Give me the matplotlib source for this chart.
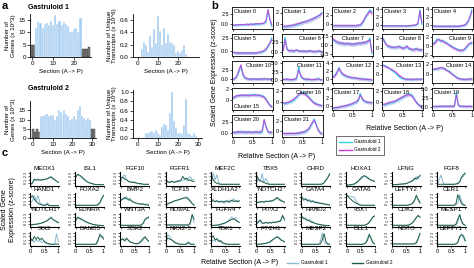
import numpy as np
import matplotlib
matplotlib.use("Agg")
import matplotlib.pyplot as plt
from matplotlib.lines import Line2D

plt.rcParams['font.family'] = ['Liberation Sans', 'DejaVu Sans']

# ---------------- panel a data ----------------
g1_genes = [4.8, 4.8, 12.0, 14.2, 13.8, 12.0, 13.5, 14.0, 13.2, 14.5, 13.0, 17.2, 13.5, 14.5,
            13.0, 14.2, 13.5, 12.5, 10.0, 10.2, 11.5, 12.0, 10.2, 16.0, 3.3, 3.2, 3.1, 4.0]
g1_excluded = [0, 1, 24, 25, 26, 27]
g1_tx_first = 2
g1_tx = [0.13, 0.25, 0.20, 0.08, 0.35, 0.17, 0.45, 0.22, 0.67, 0.43, 0.20, 0.48, 0.22,
         0.38, 0.25, 0.22, 0.20, 0.06, 0.10, 0.07, 0.12, 0.20, 0.05]

g2_genes = [4.7, 3.0, 4.7, 3.3, 11.8, 12.0, 12.5, 13.0, 12.0, 12.5, 12.5, 10.0, 12.0, 15.0,
            14.0, 12.5, 15.0, 13.0, 12.0, 10.0, 10.5, 12.0, 10.5, 15.0, 17.5, 12.0, 11.0,
            10.0, 11.0, 9.5, 4.8, 4.8]
g2_excluded = [0, 1, 2, 3, 30, 31]
g2_tx_first = 4
g2_tx = [0.12, 0.10, 0.13, 0.15, 0.12, 0.18, 0.10, 0.07, 0.25, 0.30, 0.28, 0.17, 0.55,
         1.00, 0.38, 0.22, 0.10, 0.12, 0.09, 0.28, 0.85, 0.12, 0.08, 0.05, 0.10, 0.05]

# ---------------- panel b data ----------------
cluster_g1 = [
    [-0.3,-0.3,-0.2,-0.2,-0.2,-0.1,-0.2,-0.1,-0.1,0,-0.1,0,0,0,0.1,0.1,0.2,0.6,3.4,1.0,-0.6],
    [-0.6,-0.6,-0.5,-0.5,-0.4,-0.3,-0.3,-0.2,-0.1,0,0.2,0.3,0.4,0.5,0.6,0.8,0.9,1.2,1.3,1.6,2.0],
    [-0.3,-0.3,-0.3,-0.3,-0.3,-0.3,-0.3,-0.3,-0.3,-0.3,-0.3,-0.3,-0.3,-0.2,-0.2,0.2,0.8,1.6,2.4,3.0,2.6],
    [-0.2,-0.2,-0.2,-0.2,-0.2,-0.2,-0.2,-0.2,-0.2,-0.2,-0.2,-0.2,-0.2,-0.2,-0.2,-0.1,-0.1,0,0.3,3.9,0.2],
    [-0.3,-0.3,-0.3,-0.3,-0.3,-0.3,-0.3,-0.3,-0.3,-0.3,-0.3,-0.3,-0.3,-0.3,-0.2,-0.2,-0.1,0.2,0.8,2.0,4.0],
    [-0.3,-0.4,-0.4,-0.4,-0.4,-0.4,-0.4,-0.4,-0.4,-0.4,-0.4,-0.4,-0.4,-0.3,-0.3,-0.2,0,0.3,0.8,1.5,2.6],
    [0.5,3.8,0.6,0.3,0.5,0.2,0.3,0.6,0.2,0.3,0.2,0.3,0.1,0.2,0.4,0.1,0.2,0.1,0.2,0.3,0.1],
    [1.5,1.0,0.8,0.5,0.6,0.3,0.4,0.2,0.5,0.3,0.1,0.4,0.3,0.5,0.4,0.6,0.8,0.7,1.0,2.0,-2.5],
    [2.0,1.2,0.5,0.3,0.2,0.3,0.1,0.2,0.4,0.3,0.1,0.0,0.5,0.0,-0.2,-0.3,-0.2,0.0,-0.3,-0.2,-0.4],
    [0.5,0.8,1.5,1.3,1.0,1.2,0.8,0.6,0.3,0.0,-0.3,-0.5,-0.7,-0.9,-1.0,-1.1,-0.9,-0.5,0.0,0.5,0.4],
    [0,0.2,0.8,2.0,3.5,1.0,0.3,0.1,0,0,0.1,0,0,0.1,0,0.1,0.2,0.1,0,0.1,0],
    [0.3,0.2,0.4,0.2,0.1,0.3,0.2,0.5,4.0,1.2,0.5,0.3,0.2,0.4,0.2,0.1,0.3,0.2,0.6,0.2,0.1],
    [0.5,1.0,1.8,2.8,1.5,1.0,0.8,0.6,0.5,0.4,0.3,0.2,0.2,0.1,0.1,0,-0.1,0,-0.2,-0.1,-0.3],
    [2.0,1.8,1.6,1.3,1.0,0.7,0.4,0.0,-0.4,-0.7,-0.9,-1.0,-1.0,-1.0,-1.1,-1.1,-1.1,-1.0,-1.0,-1.0,-1.0],
    [0.9,1.0,1.0,1.1,1.3,1.2,1.0,0.8,0.6,0.3,0.0,-0.3,-0.6,-0.8,-1.0,-1.0,-1.0,-1.1,-1.0,-1.0,-1.0],
    [0.3,0.6,0.8,0.9,0.9,0.9,0.8,0.9,0.9,0.9,1.0,1.0,0.9,0.9,0.9,0.8,0.6,0.2,-0.4,-0.9,-1.2],
    [-0.3,-0.3,-0.2,-0.1,0,0.2,0.5,0.9,1.3,1.6,1.8,1.7,1.4,1.0,0.6,0.2,-0.1,-0.3,-0.5,-0.6,-0.7],
    [-0.6,-0.5,-0.4,-0.3,-0.2,-0.1,0,0.1,0.2,0.3,0.5,0.7,0.9,1.3,3.0,1.5,1.1,0.9,0.8,0.8,0.7],
    [-0.6,-0.6,-0.4,-0.4,-0.2,-0.2,0,0.2,0.4,0.6,0.8,1.0,1.3,1.5,1.4,1.2,0.6,0.0,-0.5,-0.8,-1.0],
    [0.1,0.2,0.1,0.3,0.2,0.2,0.3,0.2,0.3,0.2,0.3,0.3,4.2,0.5,0.2,0.3,0.2,0.2,0.3,0.2,0.1],
    [0,0.1,0,0.1,0.3,0.1,0,0.1,0.2,0.1,0,0.1,0.2,0.1,0,0.1,2.8,1.5,0.1,0,0.1],
    [-0.5,-0.5,-0.5,-0.5,-0.5,-0.5,-0.5,-0.5,-0.4,-0.4,-0.3,-0.2,0.0,0.3,0.8,1.5,2.4,1.5,0.3,-0.3,-0.5],
]
cluster_g2 = [
    [-0.2,-0.2,-0.2,-0.1,-0.1,-0.1,-0.1,0,-0.1,0,0,0,0.1,0.1,0.1,0.2,0.3,0.8,3.6,1.2,-0.2],
    [-0.5,-0.5,-0.5,-0.4,-0.4,-0.3,-0.2,-0.1,0,0.1,0.2,0.3,0.4,0.5,0.7,0.8,1.0,1.1,1.4,1.5,1.9],
    [-0.3,-0.3,-0.3,-0.3,-0.3,-0.3,-0.3,-0.3,-0.3,-0.3,-0.3,-0.3,-0.3,-0.2,-0.1,0.3,1.0,1.8,2.2,2.8,2.2],
    [-0.2,-0.2,-0.2,-0.2,-0.2,-0.2,-0.2,-0.2,-0.2,-0.2,-0.2,-0.2,-0.2,-0.2,-0.1,-0.1,0,0.1,0.5,3.6,0.6],
    [-0.3,-0.3,-0.3,-0.3,-0.3,-0.3,-0.3,-0.3,-0.3,-0.3,-0.3,-0.3,-0.3,-0.3,-0.2,-0.1,0,0.3,1.0,2.2,3.5],
    [-0.3,-0.3,-0.4,-0.4,-0.4,-0.4,-0.4,-0.4,-0.4,-0.4,-0.4,-0.4,-0.4,-0.3,-0.2,-0.1,0.1,0.4,1.0,1.6,2.2],
    [0.4,3.2,0.8,0.3,0.4,0.3,0.4,0.5,0.3,0.2,0.3,0.2,0.2,0.3,0.3,0.2,0.1,0.2,0.3,0.2,0.1],
    [1.8,1.2,0.9,0.7,0.5,0.6,0.3,0.5,0.4,0.2,0.3,0.2,0.4,0.6,0.5,0.7,0.6,0.9,1.2,1.5,-2.0],
    [1.8,1.0,0.6,0.4,0.3,0.2,0.2,0.3,0.3,0.2,0.0,0.1,0.4,0.1,-0.1,-0.2,-0.3,-0.1,-0.2,-0.3,-0.3],
    [0.3,0.6,1.2,1.4,1.1,1.0,0.7,0.5,0.2,-0.1,-0.4,-0.6,-0.8,-1.0,-1.1,-1.0,-0.8,-0.3,0.2,0.6,0.7],
    [0,0.3,1.0,2.5,3.8,1.5,0.5,0.2,0.1,0,0,0.1,0,0,0.1,0,0.1,0.1,0,0,0],
    [0.2,0.3,0.3,0.2,0.2,0.2,0.3,0.8,3.0,1.5,0.6,0.4,0.3,0.3,0.2,0.2,0.2,0.3,0.4,0.2,0.1],
    [0.4,0.8,1.5,2.6,1.8,1.2,0.9,0.7,0.5,0.4,0.3,0.3,0.2,0.1,0,0,-0.1,-0.1,-0.1,-0.2,-0.2],
    [1.8,1.7,1.5,1.3,1.1,0.9,0.6,0.3,-0.1,-0.4,-0.7,-0.9,-1.0,-1.0,-1.0,-1.0,-1.0,-1.0,-1.0,-1.0,-1.0],
    [1.0,1.0,1.1,1.2,1.3,1.2,1.0,0.7,0.5,0.2,-0.1,-0.4,-0.7,-0.9,-1.0,-1.0,-1.1,-1.1,-1.0,-1.0,-1.0],
    [0.4,0.7,0.8,0.8,0.9,0.9,0.9,0.9,0.8,0.9,0.9,0.9,0.9,0.9,0.8,0.7,0.5,0.1,-0.5,-1.0,-1.2],
    [-0.2,-0.2,-0.1,0,0.2,0.4,0.7,1.0,1.4,1.7,1.6,1.5,1.2,0.9,0.5,0.1,-0.2,-0.4,-0.5,-0.6,-0.7],
    [-0.5,-0.4,-0.4,-0.3,-0.2,-0.1,0,0.1,0.3,0.4,0.6,0.8,1.0,1.6,2.6,1.8,1.2,1.0,0.9,0.8,0.8],
    [-0.5,-0.5,-0.3,-0.2,-0.1,0,0.1,0.3,0.5,0.7,0.9,1.1,1.2,1.3,1.3,1.0,0.5,-0.1,-0.5,-0.8,-1.0],
    [0.2,0.3,0.2,0.2,0.3,0.3,0.2,0.3,0.2,0.3,0.2,0.4,3.5,0.6,0.3,0.2,0.3,0.2,0.2,0.3,0.2],
    [0.1,0,0.2,0.2,0.1,0.1,0.2,0.1,0.1,0.1,0.1,0.2,0.1,0.1,0.2,0.4,3.0,1.2,0.2,0.1,0],
    [-0.5,-0.5,-0.5,-0.5,-0.5,-0.5,-0.5,-0.4,-0.4,-0.3,-0.2,-0.1,0.1,0.4,1.0,1.7,2.2,1.3,0.2,-0.3,-0.6],
]
cluster_sd = [0.3, 0.35, 0.35, 0.3, 0.35, 0.3, 0.4, 0.6, 0.35, 0.35, 0.4, 0.45, 0.4, 0.3,
              0.3, 0.3, 0.3, 0.4, 0.35, 0.4, 0.4, 0.35]
cluster_ylim = [(-1.2, 4.2), (-1, 3), (-1, 3.6), (-1, 4.6), (-1, 4.6), (-1, 3.3), (-1, 4.6),
                (-3.2, 3.2), (-1.5, 2.8), (-2.3, 2.6), (-1, 4.8), (-0.8, 5.6), (-1, 4.4),
                (-1.8, 2.8), (-1.8, 2.6), (-1.8, 2.2), (-1.5, 2.6), (-1, 4.3), (-1.6, 2.6),
                (-0.8, 5.4), (-1, 4.0), (-1.2, 3.2)]
cluster_yticks = [[0, 2.5], [0, 2], [0, 2], [0, 2, 4], [0, 2, 4], [0, 2.5], [0, 2.5],
                  [-2.5, 0, 2.5], [0, 2], [-2, 0, 2], [0, 2.5], [0, 2.5, 5], [0, 2, 4],
                  [0, 2], [0, 2], [0, 2], [0, 2], [0, 2, 4], [0, 2], [0, 2.5, 5], [0, 2.5], [0, 2]]
cluster_label_pos = ['l', 'l', 'l', 'l', 'l', 'l', 'r', 'c', 'r', 'r', 'r', 'r', 'r', 'r',
                     'r', 'bl', 'r', 'l', 'l', 'l', 'l', 'l']

# ---------------- panel c data ----------------
genes = ['MEOX1', 'ISL1', 'FGF10', 'FGFR1', 'MEF2C', 'TBX5', 'CHRD', 'HOXA1', 'LFNG', 'FGF8',
         'HAND1', 'FOXA2', 'BMP2', 'TCF15', 'ALDH1A2', 'NOTCH2', 'GATA4', 'GATA6', 'LEFTY2', 'CER1',
         'NOTCH1', 'EDNRA', 'WNT3A', 'NODAL', 'FGFR4', 'PITX2', 'HAND2', 'TBXT', 'CDX2', 'MESP1',
         'SIX2', 'DAND5', 'SOX2', 'NKX2-5', 'TBX1', 'PTCH1', 'MESP2', 'DLL1', 'NOTO', 'LEFTY1']
gene_g1 = [
    [-0.5,0.0,1.0,0.8,1.3,1.0,0.8,1.2,1.0,1.3,1.5,2.0,1.2,1.0,0.5,0.2],
    [2.0,2.5,2.2,1.8,1.2,0.8,0.4,0.2,0.0,-0.2,-0.3,-0.3,-0.4,-0.4,-0.4,-0.4],
    [0.5,2.0,2.5,1.2,0.5,0.3,0.2,0.5,0.2,0.0,-0.2,0.0,-0.3,-0.3,-0.3,-0.3],
    [0.8,0.3,0.5,0.6,0.2,0.5,0.8,0.4,0.6,0.9,1.2,0.8,1.5,2.0,1.0,1.2],
    [0.0,3.0,1.0,2.5,0.2,-0.2,-0.3,-0.3,-0.3,-0.3,-0.3,-0.3,-0.3,-0.3,-0.3,-0.3],
    [0.0,1.5,0.5,2.8,0.2,1.5,0.2,-0.3,-0.3,-0.3,-0.3,-0.3,-0.3,-0.3,-0.3,-0.3],
    [-0.3,-0.3,-0.3,-0.3,-0.3,-0.3,-0.3,-0.3,-0.3,-0.3,-0.3,-0.3,0.0,0.8,1.8,2.6],
    [-0.5,-0.5,-0.5,-0.4,-0.3,0.0,0.5,1.0,1.5,2.0,2.2,1.8,1.4,1.0,0.8,0.6],
    [-0.4,-0.4,-0.4,-0.4,-0.3,-0.3,-0.3,-0.2,-0.1,0.2,0.4,0.6,1.0,2.0,1.2,2.5],
    [-0.3,1.0,2.5,0.2,-0.3,-0.3,-0.3,-0.3,-0.3,-0.3,-0.3,-0.2,0.2,1.5,2.0,2.8],
    [0.5,1.0,2.5,1.0,2.6,0.5,0.0,-0.2,-0.3,0.5,-0.3,-0.4,-0.4,-0.4,-0.4,-0.4],
    [-0.3,-0.3,-0.3,-0.3,-0.3,-0.3,-0.3,-0.3,-0.3,-0.3,-0.3,-0.3,-0.2,0.3,1.5,2.8],
    [1.0,1.8,1.5,2.2,1.0,1.8,0.8,0.5,0.3,0.2,0.1,0.3,0.0,-0.2,0.2,-0.3],
    [-0.3,0.0,0.3,0.5,0.8,1.0,1.2,1.3,1.5,1.8,2.0,2.2,1.8,1.0,0.3,-0.2],
    [0.8,1.5,0.6,1.2,0.5,0.8,1.0,0.3,0.8,1.2,0.5,1.0,1.6,0.8,1.2,0.9],
    [0.3,0.8,0.5,0.9,0.6,1.0,0.7,1.1,0.8,1.0,1.3,1.8,1.2,1.4,0.8,0.5],
    [2.2,1.0,1.8,0.8,1.5,0.5,1.2,0.4,0.8,0.2,0.5,0.0,0.3,-0.2,0.0,-0.3],
    [2.5,2.4,2.3,2.2,2.0,0.8,0.2,-0.2,-0.3,-0.3,-0.3,-0.3,-0.3,-0.3,-0.3,-0.3],
    [-0.3,-0.3,-0.3,-0.3,-0.3,-0.3,-0.3,-0.3,-0.3,-0.2,-0.1,0.2,0.8,2.8,1.0,0.2],
    [-0.3,-0.3,-0.3,-0.3,-0.3,-0.3,-0.3,-0.3,-0.3,-0.3,-0.2,0.5,2.8,1.0,-0.2,-0.3],
    [-0.3,-0.2,-0.1,0.0,0.1,0.2,0.3,0.5,0.8,1.0,1.5,2.2,1.5,1.0,0.6,0.4],
    [1.0,2.2,1.5,1.8,1.0,0.8,0.5,0.3,0.1,0.0,-0.2,-0.3,-0.3,-0.3,-0.4,-0.4],
    [-0.3,-0.3,-0.3,-0.3,-0.3,-0.3,-0.3,-0.3,-0.3,-0.3,-0.3,-0.2,0.2,1.2,2.0,1.6],
    [-0.2,-0.2,-0.2,-0.2,-0.2,-0.2,-0.2,-0.2,-0.2,-0.2,-0.2,-0.2,-0.2,-0.1,3.0,0.5],
    [-0.4,-0.4,-0.3,-0.3,-0.2,-0.1,0.0,0.2,0.5,1.0,1.5,2.2,1.5,2.0,1.0,0.5],
    [0.0,0.5,1.0,0.2,0.3,0.5,0.2,0.6,0.3,0.8,0.4,0.6,1.0,0.8,2.8,1.0],
    [2.5,1.5,2.0,1.0,1.5,0.5,0.8,0.3,0.2,0.0,-0.2,-0.3,-0.3,-0.4,-0.4,-0.4],
    [-0.3,-0.3,-0.3,-0.3,-0.3,-0.3,-0.3,-0.3,-0.3,-0.3,-0.2,0.0,0.5,1.2,2.0,2.6],
    [-0.3,-0.3,-0.3,-0.3,-0.3,-0.3,-0.3,-0.3,-0.3,-0.2,0.0,0.4,1.0,1.8,2.5,2.2],
    [-0.3,-0.3,-0.3,-0.3,-0.3,-0.3,-0.3,-0.3,-0.3,-0.3,-0.2,0.5,3.0,0.5,-0.2,-0.3],
    [0.5,1.0,0.3,1.2,0.5,0.8,0.2,0.5,0.0,-0.2,-0.2,-0.3,-0.3,-0.2,2.8,0.5],
    [-0.3,-0.3,-0.3,-0.3,-0.3,-0.3,-0.3,-0.3,-0.3,-0.3,-0.3,-0.3,0.5,2.8,1.5,2.0],
    [0.8,1.5,0.5,1.2,1.0,0.3,0.2,0.0,-0.2,-0.2,0.0,0.5,1.0,2.0,1.2,0.5],
    [0.5,2.5,2.0,1.0,0.3,0.0,-0.2,-0.3,-0.3,-0.3,-0.3,-0.3,0.5,-0.3,-0.3,-0.3],
    [0.5,1.0,0.5,1.5,0.8,0.3,0.0,-0.2,-0.3,-0.3,-0.3,-0.3,-0.3,-0.3,-0.3,-0.3],
    [-0.3,-0.3,-0.3,-0.2,-0.2,-0.1,0.0,0.2,0.5,1.0,1.5,2.0,1.8,1.2,0.8,0.5],
    [-0.3,-0.3,-0.3,-0.3,-0.3,-0.3,-0.3,-0.3,-0.3,-0.2,0.5,3.0,0.5,-0.2,-0.3,-0.3],
    [-0.3,-0.3,-0.3,-0.3,-0.3,-0.3,-0.3,-0.3,-0.3,-0.2,0.2,1.5,2.8,1.0,0.0,-0.2],
    [-0.2,-0.2,-0.2,-0.2,-0.2,-0.2,-0.2,-0.2,-0.2,-0.2,-0.2,-0.2,-0.2,-0.1,1.0,3.0],
    [-0.3,-0.3,-0.3,-0.3,-0.3,-0.3,-0.3,-0.3,-0.3,-0.3,-0.2,0.2,1.5,2.8,1.5,0.5],
]
gene_g2 = [
    [-0.4,0.2,1.2,1.0,1.0,0.9,1.1,1.0,1.2,1.4,1.6,1.8,1.5,1.0,0.6,0.3],
    [1.8,2.6,2.4,2.0,1.5,1.0,0.5,0.2,0.0,-0.1,-0.3,-0.4,-0.4,-0.4,-0.4,-0.4],
    [1.5,1.8,1.2,1.0,0.6,0.4,0.3,0.2,0.1,0.0,-0.1,-0.2,-0.3,-0.3,-0.3,-0.3],
    [1.0,0.4,0.2,0.6,0.3,0.4,0.5,0.7,1.0,2.0,1.2,1.5,0.8,1.0,0.6,0.5],
    [2.5,1.0,0.3,0.0,-0.2,-0.3,-0.3,-0.3,-0.3,-0.3,-0.3,-0.3,-0.3,-0.3,-0.3,-0.3],
    [2.5,1.0,0.8,0.5,0.2,0.0,-0.2,-0.3,-0.3,-0.3,-0.3,-0.3,-0.3,-0.3,-0.3,-0.3],
    [-0.3,-0.3,-0.3,-0.3,-0.3,-0.3,-0.3,-0.3,-0.3,-0.3,-0.3,-0.2,0.2,1.0,1.6,2.8],
    [-0.5,-0.5,-0.4,-0.3,-0.2,0.2,0.6,1.2,1.8,2.2,2.0,1.6,1.2,0.9,0.7,0.5],
    [-0.4,-0.4,-0.4,-0.3,-0.3,-0.2,-0.2,-0.1,0.0,0.3,0.5,0.8,1.5,1.2,1.8,2.2],
    [-0.3,-0.3,-0.3,-0.3,-0.3,-0.3,-0.3,-0.3,-0.3,-0.3,-0.2,0.0,0.5,1.8,2.5,3.0],
    [2.0,2.5,1.5,0.8,0.3,0.0,-0.2,-0.3,-0.3,0.0,-0.4,-0.4,-0.4,-0.4,-0.4,-0.4],
    [-0.3,-0.3,-0.3,-0.3,-0.3,-0.3,-0.3,-0.3,-0.3,-0.3,-0.3,-0.3,-0.1,0.5,1.8,2.5],
    [1.2,1.5,2.0,1.6,1.5,1.2,0.9,0.6,0.4,0.2,0.1,0.0,0.1,-0.1,-0.2,-0.3],
    [-0.2,0.2,0.5,0.6,0.9,1.1,1.2,1.4,1.6,1.7,1.9,1.8,1.5,0.8,0.2,-0.3],
    [1.0,1.0,0.8,1.0,0.7,0.9,0.6,0.8,1.0,0.6,0.9,1.2,0.8,1.0,0.7,1.0],
    [0.5,0.6,0.7,0.8,0.6,0.9,0.8,0.9,1.0,1.2,1.5,2.0,1.6,1.0,0.9,0.6],
    [2.0,1.5,1.5,1.2,1.0,0.9,0.8,0.6,0.5,0.4,0.3,0.2,0.1,0.0,-0.1,-0.2],
    [2.6,2.0,1.5,1.0,0.6,0.3,0.0,-0.2,-0.3,-0.3,-0.3,-0.3,-0.3,-0.3,-0.3,-0.3],
    [-0.3,-0.3,-0.3,-0.3,-0.3,-0.3,-0.3,-0.3,-0.3,-0.2,0.0,0.3,1.2,2.5,1.5,0.5],
    [-0.3,-0.3,-0.3,-0.3,-0.3,-0.3,-0.3,-0.3,-0.3,-0.3,0.2,2.8,1.5,0.2,-0.2,-0.3],
    [-0.2,-0.1,0.0,0.0,0.1,0.2,0.4,0.6,0.8,1.1,1.6,1.9,1.4,1.1,0.8,0.5],
    [1.2,2.0,1.8,1.4,1.2,0.9,0.6,0.4,0.2,0.0,-0.1,-0.2,-0.3,-0.3,-0.4,-0.4],
    [-0.3,-0.3,-0.3,-0.3,-0.3,-0.3,-0.3,-0.3,-0.3,-0.3,-0.3,-0.2,0.4,1.5,1.8,2.2],
    [-0.2,-0.2,-0.2,-0.2,-0.2,-0.2,-0.2,-0.2,-0.2,-0.2,-0.2,-0.2,-0.2,0.5,2.8,1.5],
    [-0.4,-0.3,-0.3,-0.2,-0.2,0.0,0.2,0.3,0.6,0.8,1.2,1.4,1.6,1.2,0.8,0.6],
    [0.2,0.8,1.2,0.4,0.3,0.6,0.3,0.5,0.4,0.6,0.5,0.8,0.7,1.2,2.5,1.5],
    [2.2,1.8,1.5,1.2,1.0,0.8,0.5,0.3,0.1,0.0,-0.1,-0.2,-0.3,-0.3,-0.4,-0.4],
    [-0.3,-0.3,-0.3,-0.3,-0.3,-0.3,-0.3,-0.3,-0.3,-0.3,-0.2,0.1,0.6,1.4,2.2,2.4],
    [-0.3,-0.3,-0.3,-0.3,-0.3,-0.3,-0.3,-0.3,-0.3,-0.2,0.1,0.5,1.2,2.0,2.6,2.0],
    [-0.3,-0.3,-0.3,-0.3,-0.3,-0.3,-0.3,-0.3,-0.3,-0.3,0.0,1.5,2.8,1.0,0.0,-0.3],
    [1.5,0.8,2.0,1.2,1.8,1.0,1.5,0.8,0.3,0.0,-0.2,-0.3,-0.3,-0.3,-0.2,-0.3],
    [-0.3,-0.3,-0.3,-0.3,-0.3,-0.3,-0.3,-0.3,-0.3,-0.3,-0.3,-0.2,1.0,2.5,2.0,1.2],
    [1.0,1.2,0.8,1.5,0.8,0.4,0.2,0.0,-0.1,-0.1,0.2,0.8,1.5,1.8,1.0,0.6],
    [1.0,1.5,1.2,1.0,0.6,0.2,0.0,-0.2,-0.3,-0.3,-0.3,-0.2,0.2,-0.2,-0.3,-0.3],
    [1.5,2.2,1.0,1.2,0.5,0.8,0.2,0.0,-0.2,-0.3,-0.3,-0.3,-0.3,-0.3,-0.3,-0.3],
    [-0.3,-0.3,-0.2,-0.2,-0.1,0.0,0.2,0.4,0.8,1.2,1.6,1.8,1.5,1.0,0.7,0.4],
    [-0.3,-0.3,-0.3,-0.3,-0.3,-0.3,-0.3,-0.3,-0.3,-0.3,-0.2,1.0,2.8,0.5,-0.2,-0.3],
    [-0.3,-0.3,-0.3,-0.3,-0.3,-0.3,-0.3,-0.3,-0.3,-0.2,0.0,0.8,2.5,1.5,0.2,-0.2],
    [-0.2,-0.2,-0.2,-0.2,-0.2,-0.2,-0.2,-0.2,-0.2,-0.2,-0.2,-0.2,-0.1,0.2,1.5,2.8],
    [-0.3,-0.3,-0.3,-0.3,-0.3,-0.3,-0.3,-0.3,-0.3,-0.3,-0.2,0.3,2.0,2.5,2.2,0.8],
]

BLUE_BAR = '#a3ccf2'
GREY_BAR = '#7d7d7d'
CYAN = '#2fd3ea'
MAGENTA = '#c53ed6'
C_G1 = '#8db9d2'
C_G2 = '#1e5c44'

W, H = 474, 268
fig = plt.figure(figsize=(W / 100, H / 100), dpi=100)


def add_ax(x, y, w, h):
    # pixel box from the top-left corner
    return fig.add_axes([x / W, 1 - (y + h) / H, w / W, h / H])


def style_open(ax, fs=4.5):
    for s in ['top', 'right']:
        ax.spines[s].set_visible(False)
    for s in ['left', 'bottom']:
        ax.spines[s].set_linewidth(0.6)
    ax.tick_params(labelsize=fs, length=2, width=0.5, pad=1)


def bars(ax, values, excluded, first=0):
    secs = np.arange(first, first + len(values))
    cols = [GREY_BAR if s in excluded else BLUE_BAR for s in secs]
    edges = ['#333333' if s in excluded else 'white' for s in secs]
    ax.bar(secs, values, width=1.0, color=cols, edgecolor=edges, linewidth=0.3)


# ---------------- panel a ----------------
fig.text(2 / W, 1 - 9 / H, 'a', fontsize=8, fontweight='bold')
fig.text(28 / W, 1 - 9 / H, 'Gastruloid 1', fontsize=5, fontweight='bold')
fig.text(28 / W, 1 - 90 / H, 'Gastruloid 2', fontsize=5, fontweight='bold')

ax = add_ax(30, 14, 61, 43)
bars(ax, g1_genes, g1_excluded)
ax.set_xlim(-1, 28)
ax.set_ylim(0, 17.5)
ax.set_xticks([0, 10, 20])
ax.set_yticks([0, 5, 10, 15])
ax.set_ylabel('Number of\nGenes (x 10^3)', fontsize=4.5, labelpad=2)
ax.set_xlabel('Section (A -> P)', fontsize=4.5, labelpad=2)
style_open(ax)

ax = add_ax(133, 14, 66, 43)
bars(ax, g1_tx, [], g1_tx_first)
ax.set_xlim(-2.5, 30.5)
ax.set_ylim(0, 0.7)
ax.set_xticks([0, 10, 20])
ax.set_yticks([0, 0.2, 0.4, 0.6])
ax.set_yticklabels(['0.0', '0.2', '0.4', '0.6'])
ax.set_ylabel('Number of Unique\nTranscripts (x 10^6)', fontsize=4.5, labelpad=2)
ax.set_xlabel('Section (A -> P)', fontsize=4.5, labelpad=2)
style_open(ax)

ax = add_ax(30, 101, 66, 37)
bars(ax, g2_genes, g2_excluded)
ax.set_xlim(-1.5, 32)
ax.set_ylim(0, 20)
ax.set_xticks([0, 10, 20, 30])
ax.set_yticks([0, 5, 10, 15])
ax.set_ylabel('Number of\nGenes (x 10^3)', fontsize=4.5, labelpad=2)
ax.set_xlabel('Section (A -> P)', fontsize=4.5, labelpad=2)
style_open(ax)

ax = add_ax(133, 90, 69, 48)
bars(ax, g2_tx, [], g2_tx_first)
ax.set_xlim(-2.5, 32)
ax.set_ylim(0, 1.05)
ax.set_xticks([0, 10, 20, 30])
ax.set_yticks([0, 0.2, 0.4, 0.6, 0.8, 1.0])
ax.set_yticklabels(['0.0', '0.2', '0.4', '0.6', '0.8', '1.0'])
ax.set_ylabel('Number of Unique\nTranscripts (x 10^6)', fontsize=4.5, labelpad=2)
ax.set_xlabel('Section (A -> P)', fontsize=4.5, labelpad=2)
style_open(ax)

# ---------------- panel b ----------------
fig.text(211 / W, 1 - 9 / H, 'b', fontsize=8, fontweight='bold')
rel_b = np.linspace(0, 1, 21)
b_left = [232, 282, 332, 382, 432]
b_top = [7, 34, 61, 88, 115]
for k in range(len(cluster_g1)):
    r, c = divmod(k, 5)
    ax = add_ax(b_left[c], b_top[r], 41, 22)
    y1 = np.array(cluster_g1[k])
    y2 = np.array(cluster_g2[k])
    sd = cluster_sd[k]
    ax.fill_between(rel_b, y1 - sd, y1 + sd, color=CYAN, alpha=0.25, lw=0)
    ax.fill_between(rel_b, y2 - sd, y2 + sd, color=MAGENTA, alpha=0.25, lw=0)
    ax.plot(rel_b, y1, color=CYAN, lw=0.8)
    ax.plot(rel_b, y2, color=MAGENTA, lw=0.8, alpha=0.85)
    ax.set_xlim(-0.03, 1.03)
    ax.set_ylim(*cluster_ylim[k])
    ticks = cluster_yticks[k]
    ax.set_yticks(ticks)
    if any(t != int(t) for t in ticks):
        ax.set_yticklabels(['%.1f' % t for t in ticks])
    else:
        ax.set_yticklabels(['%d' % t for t in ticks])
    ax.set_xticks([0, 0.5, 1])
    bottom = (r == 4) or (r == 3 and c >= 2)
    if bottom:
        ax.set_xticklabels(['0', '0.5', '1'])
    else:
        ax.set_xticklabels([])
    ax.tick_params(labelsize=4, length=1.5, width=0.5, pad=0.8)
    for s in ax.spines.values():
        s.set_linewidth(0.6)
    pos = cluster_label_pos[k]
    name = 'Cluster %d' % k
    if pos == 'l':
        ax.text(0.04, 0.93, name, transform=ax.transAxes, fontsize=4, va='top', ha='left')
    elif pos == 'r':
        ax.text(0.96, 0.93, name, transform=ax.transAxes, fontsize=4, va='top', ha='right')
    elif pos == 'c':
        ax.text(0.5, 0.93, name, transform=ax.transAxes, fontsize=4, va='top', ha='center')
    else:
        ax.text(0.04, 0.05, name, transform=ax.transAxes, fontsize=4, va='bottom', ha='left')

fig.text(215 / W, 1 - 72 / H, 'Scaled Gene Expression (z-score)', fontsize=5,
         rotation=90, ha='center', va='center')
fig.text(277 / W, 1 - 156 / H, 'Relative Section (A -> P)', fontsize=5, ha='center', va='center')
fig.text(405 / W, 1 - 128 / H, 'Relative Section (A -> P)', fontsize=5, ha='center', va='center')
handles_b = [Line2D([], [], color=CYAN, lw=1), Line2D([], [], color=MAGENTA, lw=1)]
leg = fig.legend(handles_b, ['Gastruloid 1', 'Gastruloid 2'], loc='upper left',
                 bbox_to_anchor=(334 / W, 1 - 134 / H), fontsize=3.5, frameon=True,
                 fancybox=False, edgecolor='black', handlelength=2.5, borderpad=0.6,
                 labelspacing=0.6, handletextpad=0.6)
leg.get_frame().set_linewidth(0.5)

# ---------------- panel c ----------------
fig.text(2 / W, 1 - 156 / H, 'c', fontsize=8, fontweight='bold')
rel_c = np.linspace(0, 1, 16)
c_top = [172, 193, 213, 232]
for k, gene in enumerate(genes):
    r, c = divmod(k, 10)
    x0 = 30 + 45.2 * c
    ax = add_ax(x0, c_top[r], 29, 14)
    ax.plot(rel_c, gene_g1[k], color=C_G1, lw=0.7)
    ax.plot(rel_c, gene_g2[k], color=C_G2, lw=0.7)
    ax.set_xlim(-0.02, 1.02)
    ax.set_ylim(-0.8, 3.3)
    ax.set_yticks([0, 1, 2, 3])
    ax.set_yticklabels(['0', '1', '2', '3'], rotation=90, va='center')
    ax.set_xticks([0, 0.5, 1])
    if r == 3:
        ax.set_xticklabels(['0', '0.5', '1'])
    else:
        ax.set_xticklabels([])
    ax.tick_params(axis='y', labelsize=2.5, length=1.2, width=0.4, pad=0.5)
    ax.tick_params(axis='x', labelsize=4, length=1.2, width=0.4, pad=1)
    for s in ['top', 'right']:
        ax.spines[s].set_visible(False)
    for s in ['left', 'bottom']:
        ax.spines[s].set_linewidth(0.8)
    ax.set_title(gene, fontsize=4.5, pad=1.5)

fig.text(9 / W, 1 - 210 / H, 'Scaled Gene\nExpression (z-score)', fontsize=5, rotation=90,
         ha='center', va='center')
fig.text(240 / W, 1 - 263 / H, 'Relative Section (A -> P)', fontsize=5, ha='center', va='center')
handles_c = [Line2D([], [], color=C_G1, lw=1), Line2D([], [], color=C_G2, lw=1)]
fig.legend(handles_c, ['Gastruloid 1', 'Gastruloid 2'], loc='center left',
           bbox_to_anchor=(283 / W, 1 - 263 / H), ncol=2, fontsize=3.5, frameon=False,
           handlelength=2.2, columnspacing=5, handletextpad=0.6)

fig.savefig('out.png', dpi=100)
